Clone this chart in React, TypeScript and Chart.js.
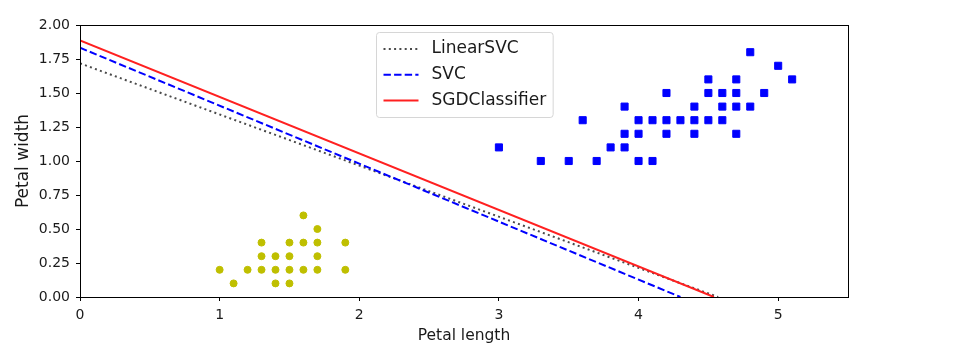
import React, { useEffect, useRef } from 'react';
import { Chart, registerables } from 'chart.js';

Chart.register(...registerables);

// Iris versicolor (blue squares)
const versicolorLength = [4.8, 5.0, 4.5, 4.7, 5.1, 4.2, 4.5, 4.6, 4.7, 4.9, 3.9, 4.4, 4.6, 4.7, 4.8, 3.6, 4.0, 4.1, 4.2, 4.3, 4.4, 4.5, 4.6, 3.9, 4.0, 4.2, 4.4, 4.7, 3.0, 3.8, 3.9, 3.3, 3.5, 3.7, 4.0, 4.1];
const versicolorWidth = [1.8, 1.7, 1.6, 1.6, 1.6, 1.5, 1.5, 1.5, 1.5, 1.5, 1.4, 1.4, 1.4, 1.4, 1.4, 1.3, 1.3, 1.3, 1.3, 1.3, 1.3, 1.3, 1.3, 1.2, 1.2, 1.2, 1.2, 1.2, 1.1, 1.1, 1.1, 1.0, 1.0, 1.0, 1.0, 1.0];

// Iris setosa (yellow circles)
const setosaLength = [1.6, 1.7, 1.3, 1.5, 1.6, 1.7, 1.9, 1.3, 1.4, 1.5, 1.7, 1.0, 1.2, 1.3, 1.4, 1.5, 1.6, 1.7, 1.9, 1.1, 1.4, 1.5];
const setosaWidth = [0.6, 0.5, 0.4, 0.4, 0.4, 0.4, 0.4, 0.3, 0.3, 0.3, 0.3, 0.2, 0.2, 0.2, 0.2, 0.2, 0.2, 0.2, 0.2, 0.1, 0.1, 0.1];

// Decision boundaries (end points)
const linearSvcX = [0, 4.57];
const linearSvcY = [1.718, 0];
const svcX = [0, 4.3];
const svcY = [1.833, 0];
const sgdX = [0, 4.54];
const sgdY = [1.887, 0];

const xTicks = [0, 1, 2, 3, 4, 5];
const yTicks = [0, 0.25, 0.5, 0.75, 1.0, 1.25, 1.5, 1.75, 2.0];

const FONT = '"DejaVu Sans", sans-serif';

const zip = (xs: number[], ys: number[]) => xs.map((x, i) => ({ x, y: ys[i] }));

const legendItems = [
  { label: 'LinearSVC', color: '#4a4a4a', dash: [2, 3.3] },
  { label: 'SVC', color: '#0000ff', dash: [7.4, 3.2] },
  { label: 'SGDClassifier', color: '#ff2020', dash: [] as number[] },
];

const framePlugin = {
  id: 'frameAndLegend',
  afterDraw(chart: any) {
    const { ctx, chartArea } = chart;
    ctx.save();
    ctx.strokeStyle = '#000';
    ctx.lineWidth = 1;
    ctx.strokeRect(chartArea.left + 0.5, chartArea.top + 0.5, chartArea.right - chartArea.left, chartArea.bottom - chartArea.top);

    // legend (upper center)
    ctx.font = `17px ${FONT}`;
    let maxW = 0;
    legendItems.forEach((it) => { maxW = Math.max(maxW, ctx.measureText(it.label).width); });
    const boxW = 7 + 35 + 13 + maxW + 7;
    const boxH = 85;
    const cx = (chartArea.left + chartArea.right) / 2;
    const bx = Math.round(cx - boxW / 2) + 0.5;
    const by = chartArea.top + 7.5;
    ctx.beginPath();
    const r = 3;
    ctx.moveTo(bx + r, by);
    ctx.lineTo(bx + boxW - r, by);
    ctx.arcTo(bx + boxW, by, bx + boxW, by + r, r);
    ctx.lineTo(bx + boxW, by + boxH - r);
    ctx.arcTo(bx + boxW, by + boxH, bx + boxW - r, by + boxH, r);
    ctx.lineTo(bx + r, by + boxH);
    ctx.arcTo(bx, by + boxH, bx, by + boxH - r, r);
    ctx.lineTo(bx, by + r);
    ctx.arcTo(bx, by, bx + r, by, r);
    ctx.closePath();
    ctx.fillStyle = 'rgba(255,255,255,0.8)';
    ctx.fill();
    ctx.strokeStyle = '#d6d6d6';
    ctx.stroke();

    legendItems.forEach((it, i) => {
      const y = by + 16.5 + i * 25.7;
      ctx.beginPath();
      ctx.setLineDash(it.dash);
      ctx.strokeStyle = it.color;
      ctx.lineWidth = 2;
      ctx.moveTo(bx + 7, y);
      ctx.lineTo(bx + 42, y);
      ctx.stroke();
      ctx.setLineDash([]);
      ctx.fillStyle = '#1a1a1a';
      ctx.textBaseline = 'middle';
      ctx.textAlign = 'left';
      ctx.fillText(it.label, bx + 55, y);
    });
    ctx.restore();
  },
};

export default function App() {
  const ref = useRef<HTMLCanvasElement | null>(null);
  useEffect(() => {
    if (!ref.current) return;
    const chart = new Chart(ref.current, {
      type: 'scatter',
      data: {
        datasets: [
          {
            label: 'versicolor',
            data: zip(versicolorLength, versicolorWidth),
            pointStyle: 'rect',
            pointRadius: 5,
            backgroundColor: '#0000ff',
            borderColor: '#0000ff',
            borderWidth: 1,
            order: 0,
          } as any,
          {
            label: 'setosa',
            data: zip(setosaLength, setosaWidth),
            pointStyle: 'circle',
            pointRadius: 3.5,
            backgroundColor: '#bfbf00',
            borderColor: '#bfbf00',
            borderWidth: 1,
            order: 0,
          },
          {
            label: 'LinearSVC',
            data: zip(linearSvcX, linearSvcY),
            showLine: true,
            pointRadius: 0,
            borderColor: '#4a4a4a',
            borderWidth: 2,
            borderDash: [2, 3.3],
            order: 3,
          },
          {
            label: 'SVC',
            data: zip(svcX, svcY),
            showLine: true,
            pointRadius: 0,
            borderColor: '#0000ff',
            borderWidth: 2,
            borderDash: [7.4, 3.2],
            order: 2,
          },
          {
            label: 'SGDClassifier',
            data: zip(sgdX, sgdY),
            showLine: true,
            pointRadius: 0,
            borderColor: '#ff2020',
            borderWidth: 2,
            order: 1,
          },
        ],
      },
      options: {
        animation: false,
        responsive: false,
        maintainAspectRatio: false,
        layout: { padding: { left: 0, top: 25, right: 107, bottom: 0 } },
        plugins: { legend: { display: false }, tooltip: { enabled: false } },
        scales: {
          x: {
            type: 'linear',
            min: 0,
            max: 5.5,
            afterFit: (s: any) => { s.height = 57; },
            afterBuildTicks: (s: any) => { s.ticks = xTicks.map((v) => ({ value: v })); },
            grid: { drawOnChartArea: false, drawTicks: true, tickLength: 4, color: '#000' },
            border: { color: '#000', width: 1 },
            ticks: { font: { family: FONT, size: 14 }, color: '#1a1a1a', padding: 6, maxRotation: 0, callback: (v: any) => String(v) },
            title: { display: true, text: 'Petal length', font: { family: FONT, size: 15.5 }, color: '#1a1a1a', padding: { top: 0, bottom: 9 } },
          },
          y: {
            type: 'linear',
            min: 0,
            max: 2,
            afterFit: (s: any) => { s.width = 80; },
            afterBuildTicks: (s: any) => { s.ticks = yTicks.map((v) => ({ value: v })); },
            grid: { drawOnChartArea: false, drawTicks: true, tickLength: 4, color: '#000' },
            border: { color: '#000', width: 1 },
            ticks: { font: { family: FONT, size: 14 }, color: '#1a1a1a', padding: 6, callback: (v: any) => Number(v).toFixed(2) },
            title: { display: true, text: 'Petal width', font: { family: FONT, size: 17 }, color: '#1a1a1a', padding: { top: 13, bottom: 0 } },
          },
        },
      },
      plugins: [framePlugin],
    });
    return () => chart.destroy();
  }, []);
  return (
    <div style={{ position: 'absolute', left: 0, top: 0, width: 955, height: 354, background: '#fff' }}>
      <canvas ref={ref} width={955} height={354} style={{ width: 955, height: 354, display: 'block' }} />
    </div>
  );
}
